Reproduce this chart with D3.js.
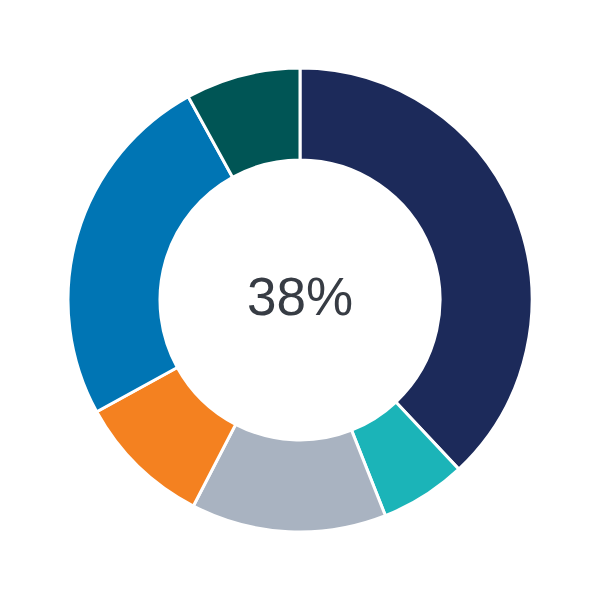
<!DOCTYPE html>
<html>
<head>
<meta charset="utf-8">
<script src="https://cdn.jsdelivr.net/npm/d3@7"></script>
<style>
  body { margin: 0; background: #fff; }
</style>
</head>
<body>
<div class="chart"></div>
<script>
var svgWidth = 600;
var svgHeight = 600;

// Slice data, clockwise from 12 o'clock
var categories = ["A", "B", "C", "D", "E", "F"];
var values = [38, 6, 13.6, 9.4, 25, 8];
var colors = ["#1c2a5a", "#1bb4b8", "#a9b3c1", "#f48120", "#0075b4", "#005555"];
var centerLabel = "38%";

var outerRadius = 232;
var innerRadius = 140;

var svg = d3.select(".chart")
  .append("svg")
  .attr("width", svgWidth)
  .attr("height", svgHeight);

var chartGroup = svg.append("g")
  .attr("transform", `translate(${svgWidth / 2}, ${svgHeight / 2})`);

var color = d3.scaleOrdinal()
  .domain(categories)
  .range(colors);

var pie = d3.pie()
  .value(d => d.value)
  .sort(null);

var arc = d3.arc()
  .innerRadius(innerRadius)
  .outerRadius(outerRadius);

var pieData = pie(categories.map((c, i) => ({ name: c, value: values[i] })));

chartGroup.selectAll("path")
  .data(pieData)
  .enter()
  .append("path")
  .attr("d", arc)
  .attr("fill", d => color(d.data.name))
  .attr("stroke", "#fff")
  .attr("stroke-width", 3);

// Center label
chartGroup.append("text")
  .attr("text-anchor", "middle")
  .attr("y", 15)
  .attr("font-family", "Liberation Sans, Arial, sans-serif")
  .attr("font-size", 53)
  .attr("fill", "#373c44")
  .text(centerLabel);
</script>
</body>
</html>
